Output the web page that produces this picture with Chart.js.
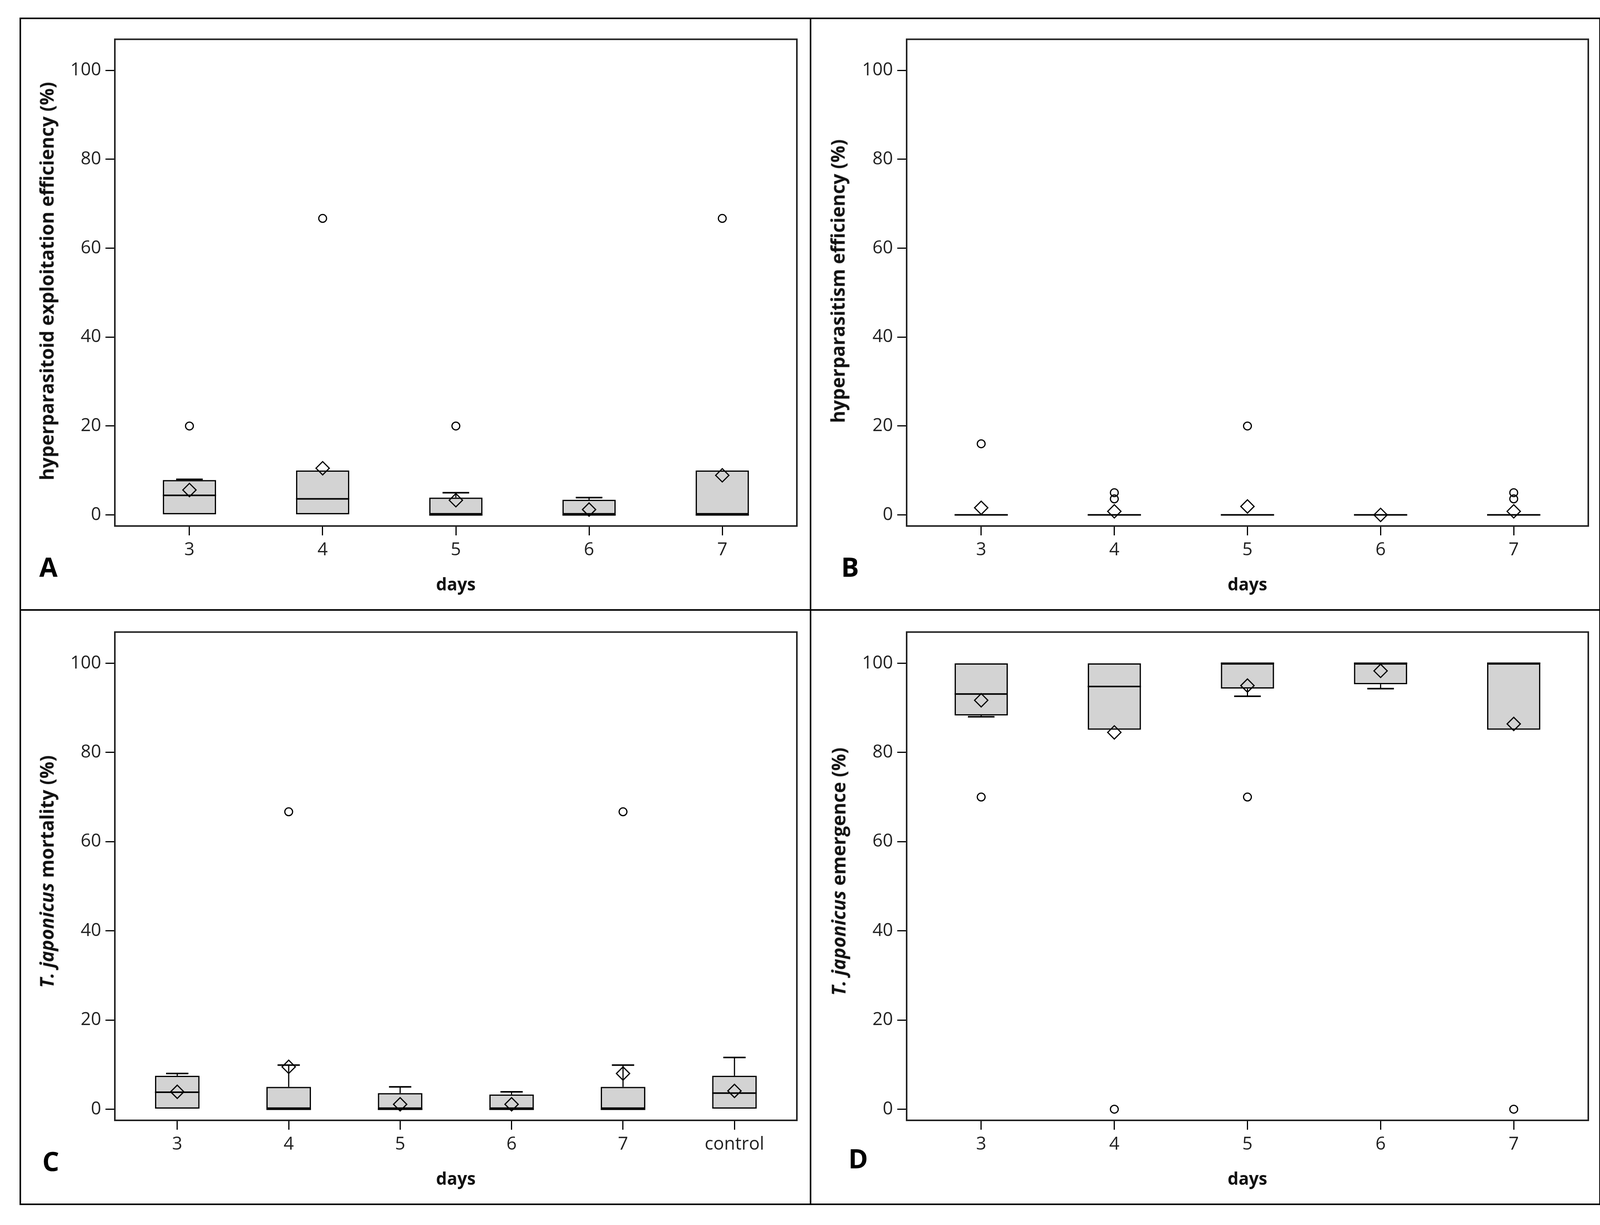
<!DOCTYPE html>
<html>
<head>
<meta charset="utf-8">
<script src="https://cdn.jsdelivr.net/npm/chart.js@4.4.1/dist/chart.umd.min.js"></script>
<style>
html, body { margin: 0; padding: 0; background: #fff; }
body { width: 4146px; height: 3137px; position: relative; overflow: hidden; font-family: "Open Sans", sans-serif; }
.line { position: absolute; background: #000; }
canvas { position: absolute; }
.ytitle { position: absolute; font-weight: 700; font-size: 48px; white-space: nowrap; color: #111;
  transform: translate(-50%, -50%) rotate(-90deg); }
.letter { position: absolute; font-weight: 700; font-size: 68px; color: #000; transform: translate(-50%, -50%); }
</style>
</head>
<body>
<!-- outer frame + dividers -->
<div class="line" style="left:50px;top:45px;width:4048px;height:4px"></div>
<div class="line" style="left:50px;top:3082px;width:4048px;height:4px"></div>
<div class="line" style="left:50px;top:45px;width:4px;height:3041px"></div>
<div class="line" style="left:4094px;top:45px;width:4px;height:3041px"></div>
<div class="line" style="left:2073px;top:45px;width:4px;height:3041px"></div>
<div class="line" style="left:50px;top:1560px;width:4048px;height:4px"></div>

<canvas id="chartA"></canvas>
<canvas id="chartB"></canvas>
<canvas id="chartC"></canvas>
<canvas id="chartD"></canvas>

<div class="ytitle" style="left:119px;top:720px">hyperparasitoid exploitation efficiency (%)</div>
<div class="ytitle" style="left:2144px;top:720px">hyperparasitism efficiency (%)</div>
<div class="ytitle" style="left:119px;top:2232px"><i>T. japonicus</i> mortality (%)</div>
<div class="ytitle" style="left:2146px;top:2232px"><i>T. japonicus</i> emergence (%)</div>

<div class="letter" style="left:124px;top:1450px">A</div>
<div class="letter" style="left:2176px;top:1450px">B</div>
<div class="letter" style="left:130px;top:2972px">C</div>
<div class="letter" style="left:2197px;top:2965px">D</div>

<script>
// tick labels
const days = ['3', '4', '5', '6', '7'];
const daysC = ['3', '4', '5', '6', '7', 'control'];
const yTicks = [0, 20, 40, 60, 80, 100];

// A - hyperparasitoid exploitation efficiency
const aQ1 = [0, 0, 0, 0, 0];
const aMedian = [4.4, 3.6, 0, 0, 0];
const aQ3 = [7.85, 10, 3.9, 3.4, 10];
const aLow = [0, 0, 0, 0, 0];
const aHigh = [8, 10, 5, 3.9, 10];
const aMean = [5.6, 10.5, 3.3, 1.2, 8.9];
const aOutliers = [[20], [66.7], [20], [], [66.7]];

// B - hyperparasitism efficiency
const bQ1 = [0, 0, 0, 0, 0];
const bMedian = [0, 0, 0, 0, 0];
const bQ3 = [0, 0, 0, 0, 0];
const bLow = [0, 0, 0, 0, 0];
const bHigh = [0, 0, 0, 0, 0];
const bMean = [1.6, 0.8, 1.9, 0, 0.8];
const bOutliers = [[16], [5, 3.6], [20], [], [5, 3.6]];

// C - T. japonicus mortality
const cQ1 = [0, 0, 0, 0, 0, 0];
const cMedian = [3.8, 0, 0, 0, 0, 3.6];
const cQ3 = [7.5, 5, 3.6, 3.3, 5, 7.5];
const cLow = [0, 0, 0, 0, 0, 0];
const cHigh = [8, 9.9, 5, 3.9, 9.9, 11.6];
const cMean = [3.9, 9.5, 1.1, 1.1, 8, 4.1];
const cOutliers = [[], [66.7], [], [], [66.7], []];

// D - T. japonicus emergence
const dQ1 = [88.3, 85.1, 94.3, 95.3, 85.1];
const dMedian = [93.1, 94.8, 100, 100, 100];
const dQ3 = [100, 100, 100, 100, 100];
const dLow = [88.0, 85.1, 92.6, 94.3, 85.1];
const dHigh = [100, 100, 100, 100, 100];
const dMean = [91.7, 84.5, 95.0, 98.3, 86.4];
const dOutliers = [[70], [0], [70], [], [0]];

const PAD_L = 260, PAD_T = 30, PAD_R = 30, PAD_B = 220;

// medians, whiskers and the plot frame, placed through the chart's scales
function boxExtras(st) {
  return {
    id: 'boxExtras',
    beforeDatasetsDraw(chart) {
      // whiskers sit under the boxes and the markers
      const { ctx, scales: { x, y } } = chart;
      const unit = x.getPixelForValue(2) - x.getPixelForValue(1);
      const capHalf = unit * 0.1;
      ctx.save();
      ctx.strokeStyle = '#000';
      st.median.forEach((m, i) => {
        const cx = x.getPixelForValue(i + 1);
        [[st.q1[i], st.low[i]], [st.q3[i], st.high[i]]].forEach(([from, to]) => {
          if (to === from) return;
          const y0 = y.getPixelForValue(from), y1 = y.getPixelForValue(to);
          ctx.lineWidth = 3;
          ctx.beginPath(); ctx.moveTo(cx, y0); ctx.lineTo(cx, y1); ctx.stroke();
          ctx.lineWidth = 4;
          ctx.beginPath(); ctx.moveTo(cx - capHalf, y1); ctx.lineTo(cx + capHalf, y1); ctx.stroke();
        });
      });
      ctx.restore();
    },
    afterDatasetDraw(chart, args) {
      // medians right after the boxes (dataset 0), before the markers
      if (args.index !== 0) return;
      const { ctx, scales: { x, y } } = chart;
      const unit = x.getPixelForValue(2) - x.getPixelForValue(1);
      const boxHalf = unit * 0.2;
      ctx.save();
      ctx.strokeStyle = '#000';
      ctx.lineWidth = 4;
      st.median.forEach((m, i) => {
        const cx = x.getPixelForValue(i + 1);
        const my = y.getPixelForValue(m);
        ctx.beginPath(); ctx.moveTo(cx - boxHalf, my); ctx.lineTo(cx + boxHalf, my); ctx.stroke();
      });
      ctx.restore();
    },
    afterDraw(chart) {
      const { ctx, chartArea: a } = chart;
      ctx.save();
      ctx.strokeStyle = '#222';
      ctx.lineWidth = 4;
      ctx.strokeRect(a.left, a.top, a.right - a.left, a.bottom - a.top);
      ctx.restore();
    }
  };
}

function makePanel(id, rect, labels, st) {
  const canvas = document.getElementById(id);
  const w = rect.x1 - rect.x0 + PAD_L + PAD_R;
  const h = rect.y1 - rect.y0 + PAD_T + PAD_B;
  canvas.width = w; canvas.height = h;
  canvas.style.left = (rect.x0 - PAD_L) + 'px';
  canvas.style.top = (rect.y0 - PAD_T) + 'px';
  canvas.style.width = w + 'px'; canvas.style.height = h + 'px';

  const pos = labels.map((_, i) => i + 1);
  const outliers = st.outliers.flatMap((arr, i) => arr.map(v => ({ x: i + 1, y: v })));

  new Chart(canvas, {
    type: 'bar',
    data: {
      datasets: [
        {
          type: 'bar',
          order: 3,
          data: pos.map((p, i) => ({ x: p, y: [st.q1[i], st.q3[i]] })),
          backgroundColor: '#d3d3d3',
          borderColor: '#000',
          borderWidth: 3.5,
          borderSkipped: false,
          barPercentage: 0.4,
          categoryPercentage: 1
        },
        {
          type: 'scatter',
          order: 1,
          data: pos.map((p, i) => ({ x: p, y: st.mean[i] })),
          pointStyle: 'rectRot',
          pointRadius: 17,
          borderWidth: 3,
          borderColor: '#000',
          backgroundColor: 'rgba(0,0,0,0)'
        },
        {
          type: 'scatter',
          order: 2,
          data: outliers,
          pointStyle: 'circle',
          pointRadius: 10,
          borderWidth: 3,
          borderColor: '#000',
          backgroundColor: 'rgba(0,0,0,0)'
        }
      ]
    },
    options: {
      responsive: false,
      animation: false,
      devicePixelRatio: 1,
      layout: { padding: { left: 0, top: PAD_T, right: PAD_R, bottom: 0 } },
      plugins: { legend: { display: false }, tooltip: { enabled: false } },
      scales: {
        x: {
          type: 'linear',
          offset: false,
          min: 0.44,
          max: labels.length + 0.56,
          afterBuildTicks: s => { s.ticks = pos.map(v => ({ value: v })); },
          afterFit: s => { s.height = PAD_B; },
          ticks: {
            callback: (v, i) => labels[i],
            font: { family: 'Open Sans', size: 46 },
            color: '#222',
            padding: 10,
            maxRotation: 0,
            autoSkip: false
          },
          grid: { offset: false, drawOnChartArea: false, drawTicks: true, tickLength: 24, color: '#000', lineWidth: 3 },
          border: { display: false },
          title: {
            display: true,
            text: 'days',
            font: { family: 'Open Sans', size: 44, weight: 'bold' },
            color: '#111',
            padding: { top: 0, bottom: 41 }
          }
        },
        y: {
          min: -2.5,
          max: 107,
          afterBuildTicks: s => { s.ticks = yTicks.map(v => ({ value: v })); },
          afterFit: s => { s.width = PAD_L; },
          ticks: {
            font: { family: 'Open Sans', size: 46 },
            color: '#222',
            padding: 11
          },
          grid: { drawOnChartArea: false, drawTicks: true, tickLength: 24, color: '#000', lineWidth: 3 },
          border: { display: false }
        }
      }
    },
    plugins: [boxExtras(st)]
  });
}

makePanel('chartA', { x0: 294, y0: 92, x1: 2040, y1: 1347 }, days,
  { q1: aQ1, median: aMedian, q3: aQ3, low: aLow, high: aHigh, mean: aMean, outliers: aOutliers });
makePanel('chartB', { x0: 2321, y0: 92, x1: 4066, y1: 1347 }, days,
  { q1: bQ1, median: bMedian, q3: bQ3, low: bLow, high: bHigh, mean: bMean, outliers: bOutliers });
makePanel('chartC', { x0: 294, y0: 1610, x1: 2040, y1: 2869 }, daysC,
  { q1: cQ1, median: cMedian, q3: cQ3, low: cLow, high: cHigh, mean: cMean, outliers: cOutliers });
makePanel('chartD', { x0: 2321, y0: 1610, x1: 4066, y1: 2869 }, days,
  { q1: dQ1, median: dMedian, q3: dQ3, low: dLow, high: dHigh, mean: dMean, outliers: dOutliers });
</script>
</body>
</html>
